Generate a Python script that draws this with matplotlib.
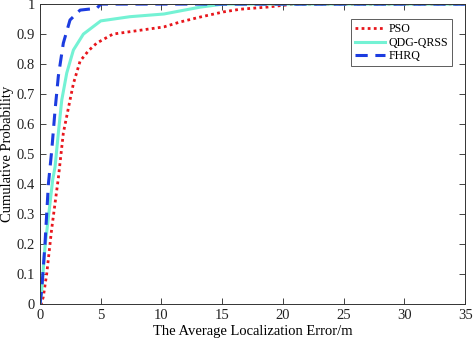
import matplotlib.pyplot as plt

plt.rcParams['font.family'] = ['Liberation Serif', 'DejaVu Serif']

pso_x = [0.0, 0.1, 0.27, 0.55, 0.96, 1.51, 1.92, 2.47, 2.75, 3.3, 4.0, 4.67, 6.0, 7.4, 10.2, 11.5, 13.2, 15.1, 16.5, 18.7, 20.9, 35.0]
pso_y = [0.0, 0.0, 0.024, 0.1, 0.25, 0.42, 0.57, 0.68, 0.735, 0.81, 0.845, 0.87, 0.9, 0.908, 0.924, 0.94, 0.957, 0.974, 0.983, 0.99, 1.0, 1.0]

qdg_x = [0.0, 0.14, 0.41, 1.04, 1.24, 1.51, 1.79, 2.2, 2.75, 3.57, 5.0, 7.4, 10.2, 11.5, 13.2, 15.1, 35.0]
qdg_y = [0.0, 0.047, 0.19, 0.413, 0.458, 0.57, 0.68, 0.77, 0.847, 0.9, 0.944, 0.958, 0.967, 0.977, 0.99, 1.0, 1.0]

fhrq_x = [0.0, 0.14, 0.41, 0.69, 0.96, 1.24, 1.51, 1.92, 2.47, 3.3, 4.67, 5.0, 35.0]
fhrq_y = [0.0, 0.047, 0.2, 0.4, 0.51, 0.647, 0.76, 0.87, 0.947, 0.98, 0.986, 1.0, 1.0]

fig = plt.figure(figsize=(4.74, 3.42), dpi=100)
ax = fig.add_axes([0.0844, 0.111, 0.897, 0.877])

ax.plot(pso_x, pso_y, color='#e8161c', lw=2, linestyle=(0, (1, 1.2)), label='PSO')
ax.plot(qdg_x, qdg_y, color='#74f2d4', lw=2.2, label='QDG-QRSS')
ax.plot(fhrq_x, fhrq_y, color='#1c3ce0', lw=2.2, linestyle=(0, (4, 2.5)), label='FHRQ')

ax.set_xlim(0, 35)
ax.set_ylim(0, 1)
ax.set_xticks(range(0, 36, 5))
ax.set_yticks([i / 10 for i in range(11)])
ax.set_yticklabels(['0', '0.1', '0.2', '0.3', '0.4', '0.5', '0.6', '0.7', '0.8', '0.9', '1'])
ax.tick_params(direction='in', top=True, right=True, labelsize=10.5, length=4, width=0.6, colors='#222222')
for s in ax.spines.values():
    s.set_linewidth(0.7)
    s.set_color('#333333')

ax.set_xlabel('The Average Localization Error/m', fontsize=10.5, labelpad=2)
ax.set_ylabel('Cumulative Probability', fontsize=10.5, labelpad=2)

leg = ax.legend(loc='upper right', bbox_to_anchor=(0.975, 0.958), fontsize=8.6, frameon=True, fancybox=False,
                edgecolor='#333333', handlelength=2.5, handletextpad=0.3, borderpad=0.35, labelspacing=0.12,
                borderaxespad=0.2)
leg.get_frame().set_linewidth(0.7)

fig.savefig('out.png', dpi=100)
